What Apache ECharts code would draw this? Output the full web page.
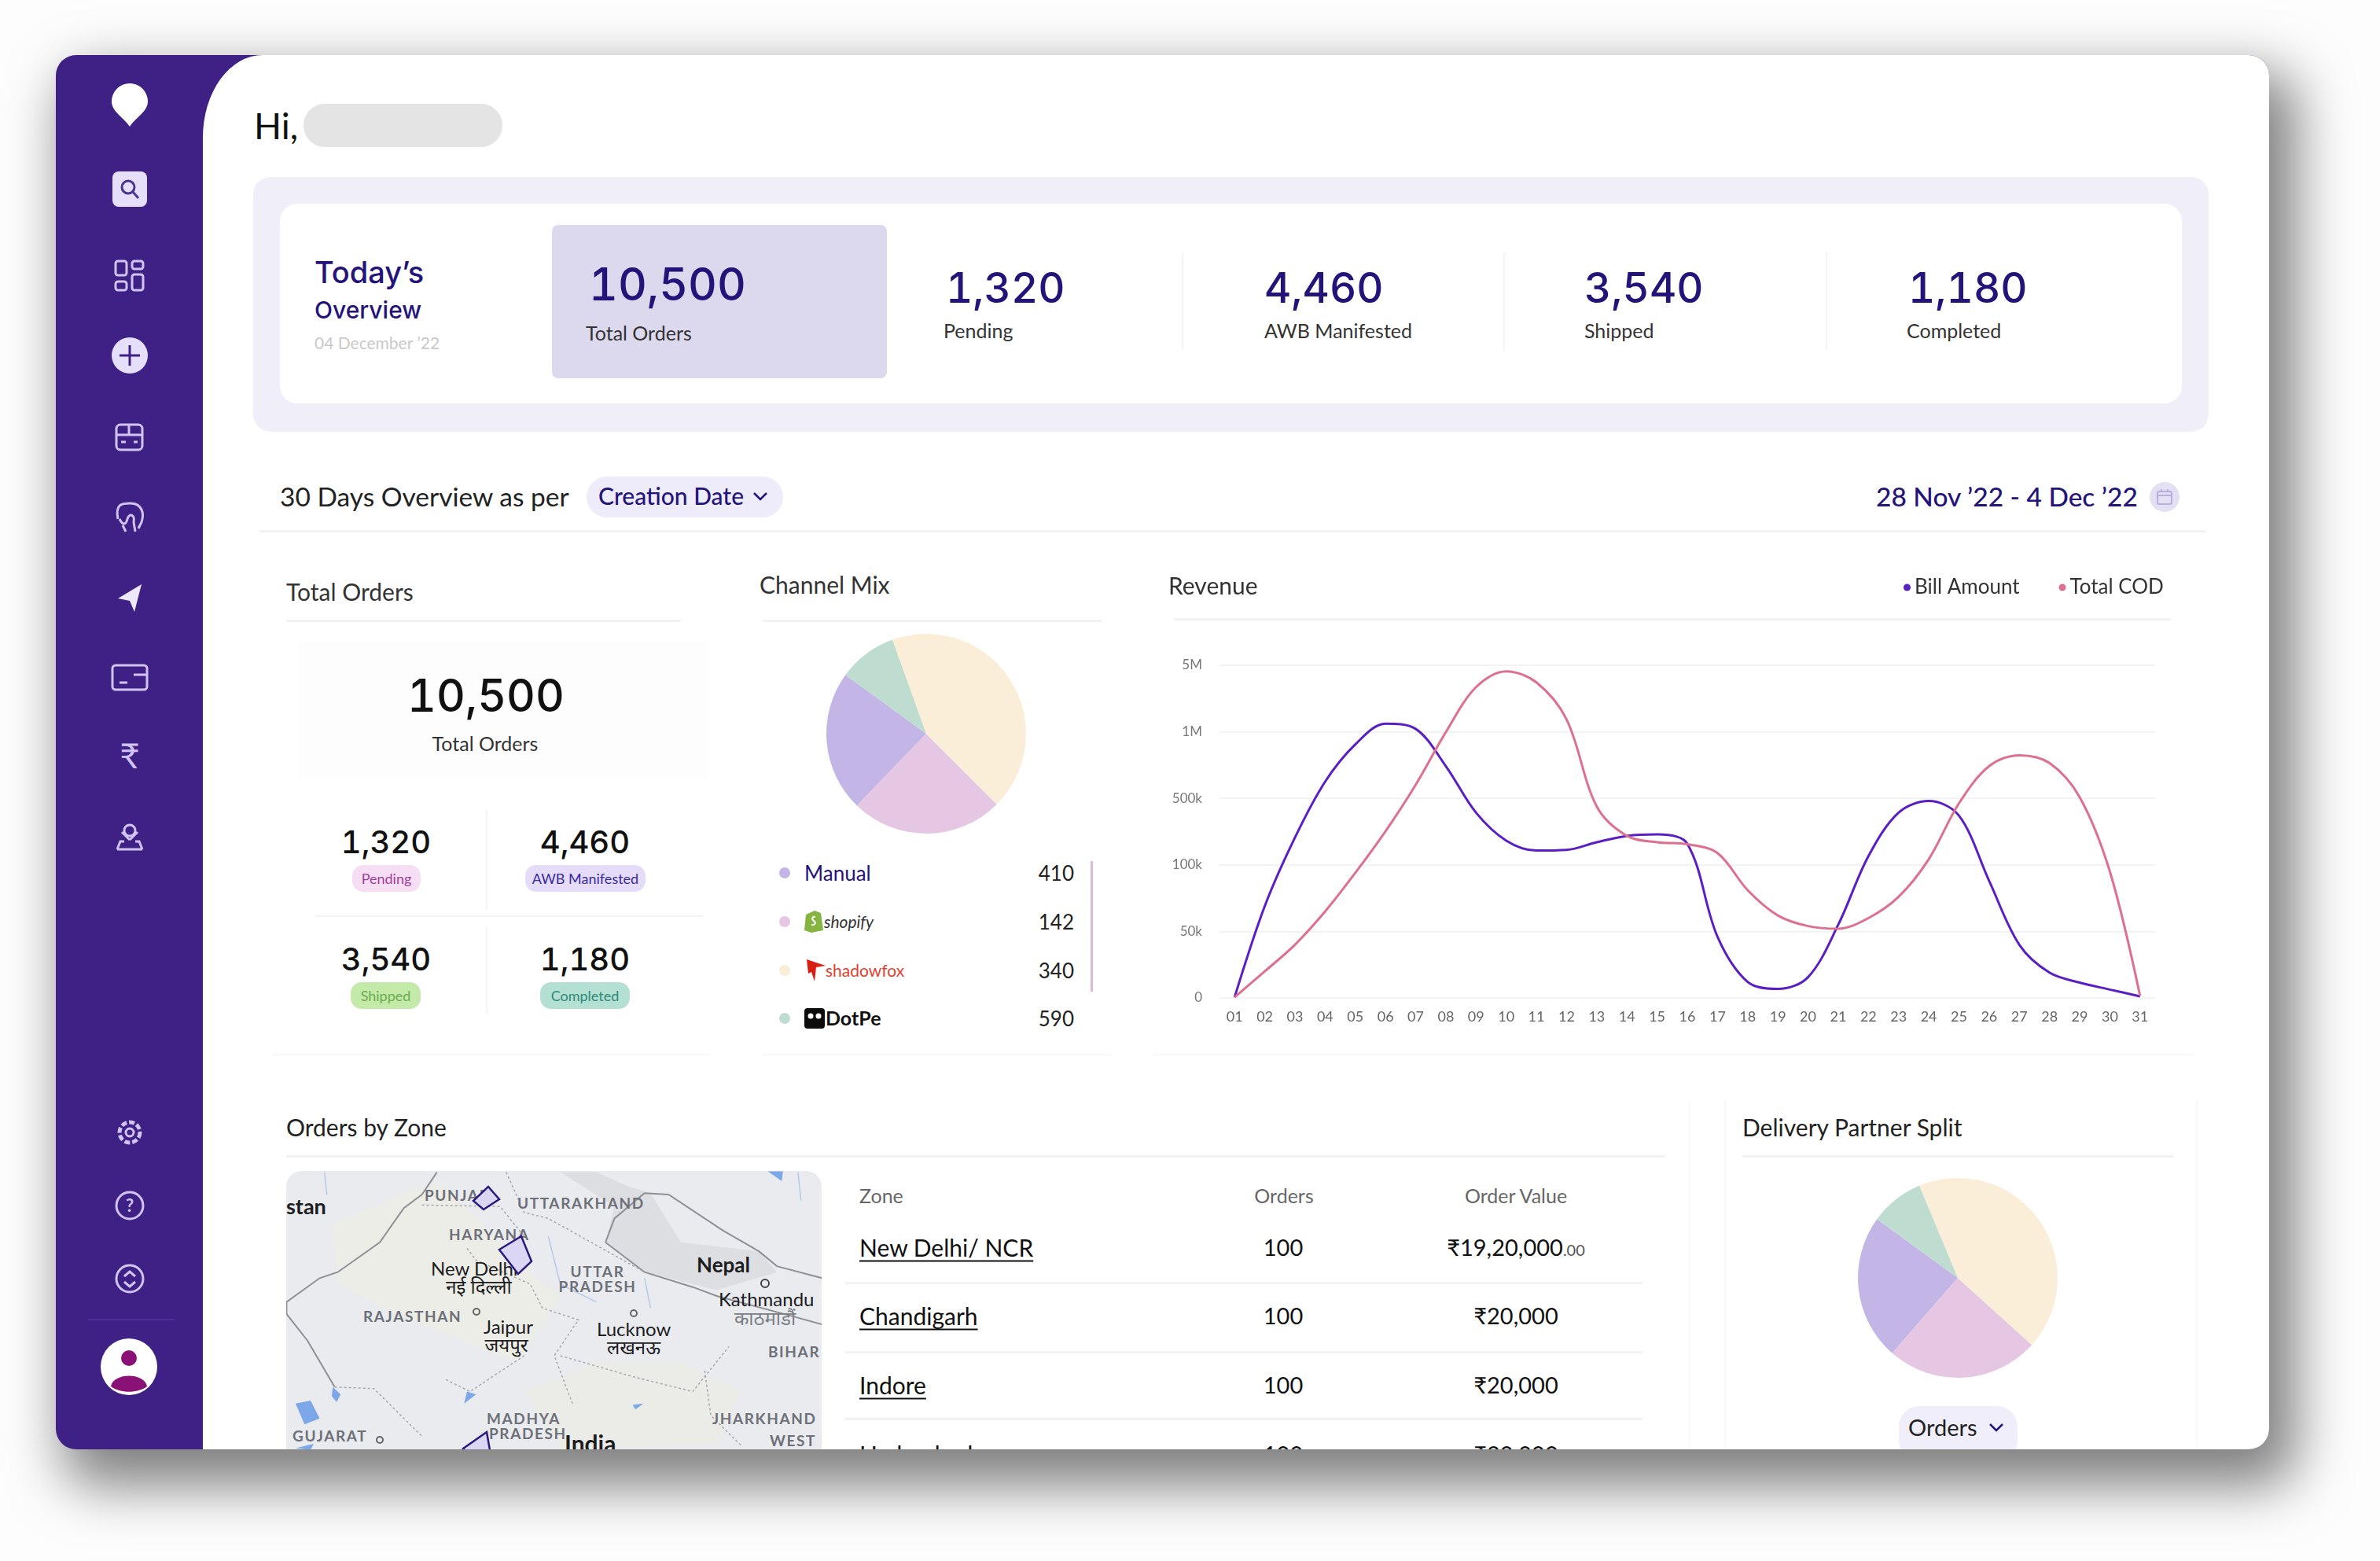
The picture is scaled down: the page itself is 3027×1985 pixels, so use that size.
<!DOCTYPE html>
<html lang="en">
<head>
	<meta charset="UTF-8">
	<title>Overview</title>
	<script src="https://cdn.jsdelivr.net/npm/echarts@6/dist/echarts.min.js"></script>
	<style>
		html,body{margin:0;padding:0;background:#fdfdfd;}
		body{position:relative;width:3027px;height:1985px;overflow:hidden;font-family:Lato,"Noto Sans","DejaVu Sans",sans-serif;color:#222;}
		#card{position:absolute;left:71px;top:70px;width:2815px;height:1773px;background:#3f2185;border-radius:26px;box-shadow:22px 34px 70px 12px rgba(0,0,0,.5);}
		#clip{position:absolute;left:0;top:0;width:100%;height:100%;overflow:hidden;border-radius:26px;}
		#inner{position:absolute;left:-71px;top:-70px;width:3027px;height:1985px;}
		#panel{position:absolute;left:258px;top:70px;width:2700px;height:1800px;background:#fff;border-top-left-radius:76px 105px;}
		.t{position:absolute;transform:translateY(-50%);white-space:nowrap;line-height:1.1;}
		.c{transform:translate(-50%,-50%);}
		.box{position:absolute;}
		.line{position:absolute;background:#f2f2f3;height:3px;}
		.vline{position:absolute;background:#f4f4f5;width:2px;}
		.navy{color:#24147a;}
		.num{font-family:Inter,Lato,sans-serif;font-weight:500;font-variant-numeric:tabular-nums;}
		.chart{position:absolute;}
		.pill{position:absolute;border-radius:14px;text-align:center;font-size:18px;line-height:34px;height:34px;}
		.zone{text-decoration:underline;text-underline-offset:5px;text-decoration-thickness:2px;color:#111;font-size:30px;}
		.cell{font-size:29px;color:#111;}
		#map text{font-family:Lato,"Noto Sans","DejaVu Sans",sans-serif;}
		#map path{vector-effect:non-scaling-stroke;}
		.st{fill:#6d7078;font-size:19px;letter-spacing:1.6px;font-weight:700;}
		.ct{fill:#1d1d1f;font-size:24px;}
	</style>
</head>
<body>
<div id="card"><div id="clip"><div id="inner">
	<div id="panel"></div>

	<!-- sidebar icons -->
	<svg class="box" style="left:0;top:0" width="300" height="1985" fill="none" stroke="#cfc4f3" stroke-width="3">
		<path d="M165 161C158 150 142 142 142 129A23 23 0 1 1 188 129C188 142 172 150 165 161Z" fill="#fff" stroke="none"/>
		<rect x="143" y="218" width="44" height="45" rx="8" fill="#e6dffa" stroke="none"/>
		<circle cx="163" cy="238" r="8" stroke="#4a3590" stroke-width="3"/><path d="M169 244L176 252" stroke="#4a3590" stroke-width="3"/>
		<rect x="147" y="332" width="14" height="18" rx="3"/><rect x="168" y="332" width="14" height="10" rx="3"/>
		<rect x="147" y="358" width="14" height="11" rx="3"/><rect x="168" y="349" width="14" height="20" rx="3"/>
		<circle cx="165" cy="452" r="23" fill="#e6dffa" stroke="none"/><path d="M165 439V465M152 452H178" stroke="#3f2185"/>
		<rect x="148" y="540" width="33" height="32" rx="5"/><path d="M148 553H181M164 540V553M170 562H175M154 562H160"/>
		<path d="M150 660C146 640 156 640 166 640C180 640 184 652 180 664L176 672M152 660C156 668 160 668 162 660C164 652 172 654 170 664L172 676M156 668L160 676" />
		<path d="M150 761L180 743L171 778L165 764Z" fill="#ede8fb" stroke="none"/>
		<rect x="143" y="846" width="44" height="31" rx="4"/><path d="M152 868H162M170 858H187"/>
		<text x="165" y="977" text-anchor="middle" font-size="44" fill="#cfc4f3" stroke="none">₹</text>
		<circle cx="165" cy="1056" r="7"/><path d="M165 1068L155 1058M165 1068L175 1058M149 1080L153 1070L158 1070M181 1080L177 1070L172 1070M149 1080H181"/>
		<circle cx="165" cy="1440" r="5" stroke-width="3"/><circle cx="165" cy="1440" r="13" stroke-dasharray="7 3" stroke-width="5"/>
		<circle cx="165" cy="1533" r="17"/><text x="165" y="1541" text-anchor="middle" font-size="22" fill="#cfc4f3" stroke="none" font-weight="700">?</text>
		<circle cx="165" cy="1626" r="17"/><path d="M158 1623L165 1617L172 1623M158 1630L165 1636L172 1630"/>
		<path d="M112 1678H222" stroke="#4d2f9a" stroke-width="2"/>
		<circle cx="164" cy="1738" r="36" fill="#fff" stroke="none"/>
		<circle cx="164" cy="1727" r="10" fill="#8a1276" stroke="none"/>
		<path d="M141 1763C144 1745 184 1745 187 1763C176 1772 152 1772 141 1763Z" fill="#8a1276" stroke="none"/>
	</svg>

	<!-- header -->
	<div class="t" style="left:323px;top:160px;font-size:46px;color:#111">Hi,</div>
	<div class="box" style="left:386px;top:132px;width:253px;height:55px;border-radius:27px;background:#e4e4e4"></div>

	<!-- today's overview -->
	<div class="box" style="left:322px;top:225px;width:2487px;height:324px;border-radius:22px;background:#f0eef9"></div>
	<div class="box" style="left:356px;top:259px;width:2419px;height:254px;border-radius:22px;background:#fff"></div>
	<div class="box" style="left:702px;top:286px;width:426px;height:195px;border-radius:8px;background:#dcd8ee"></div>
	<div class="t navy" style="left:400px;top:347px;font-size:38px;font-weight:500;font-family:Inter,Lato,sans-serif">Today’s</div>
	<div class="t navy" style="left:400px;top:394px;font-size:30px;font-weight:500;font-family:Inter,Lato,sans-serif">Overview</div>
	<div class="t" style="left:400px;top:436px;font-size:21px;color:#c9c9c9">04 December ’22</div>
	<div id="overview"></div>
	<div class="vline" style="left:1503px;top:321px;height:125px"></div>
	<div class="vline" style="left:1912px;top:321px;height:125px"></div>
	<div class="vline" style="left:2322px;top:321px;height:125px"></div>

	<!-- 30 days row -->
	<div class="t" style="left:356px;top:631px;font-size:33.5px;color:#222">30 Days Overview as per</div>
	<div class="box" style="left:746px;top:606px;width:250px;height:52px;border-radius:26px;background:#eeecfb"></div>
	<div class="t navy" style="left:761px;top:630px;font-size:30px;font-weight:500">Creation Date</div>
	<svg class="box" style="left:956px;top:622px" width="24" height="20" fill="none" stroke="#24147a" stroke-width="2.5"><path d="M3 5L11 13L19 5"/></svg>
	<div class="t navy" style="left:2386px;top:631px;font-size:33.5px;font-weight:500">28 Nov ’22 - 4 Dec ’22</div>
	<div class="box" style="left:2734px;top:613px;width:38px;height:38px;border-radius:19px;background:#e4e0f4"></div>
	<svg class="box" style="left:2741px;top:620px" width="24" height="24" fill="none" stroke="#b9aee0" stroke-width="2"><rect x="3" y="5" width="18" height="16" rx="2"/><path d="M3 10H21M8 2V6M16 2V6"/></svg>
	<div class="line" style="left:330px;top:674px;width:2475px"></div>

	<!-- total orders -->
	<div class="t" style="left:364px;top:752px;font-size:30px;color:#333">Total Orders</div>
	<div class="line" style="left:364px;top:788px;width:502px"></div>
	<div class="box" style="left:380px;top:816px;width:521px;height:175px;background:#fdfdfe"></div>
	<div class="t c num" style="left:618px;top:885px;font-size:57px;color:#111" id="bigTotal"></div>
	<div class="t c" style="left:617px;top:946px;font-size:25px;color:#333">Total Orders</div>
	<div id="statGrid"></div>
	<div class="vline" style="left:618px;top:1030px;height:127px"></div>
	<div class="vline" style="left:618px;top:1179px;height:110px"></div>
	<div class="line" style="left:401px;top:1164px;width:493px;height:2px"></div>
	<div class="line" style="left:345px;top:1340px;width:560px;height:2px;background:#f9f9f9"></div>

	<!-- channel mix -->
	<div class="t" style="left:966px;top:743px;font-size:30px;color:#333">Channel Mix</div>
	<div class="line" style="left:971px;top:788px;width:430px"></div>
	<div class="chart" id="channelPie" style="left:1028px;top:783px;width:300px;height:300px"></div>
	<div id="channelLegend"></div>
	<div class="box" style="left:1387px;top:1095px;width:3px;height:166px;background:#dcb9da"></div>
	<!-- brand marks -->
	<svg class="box" style="left:1022px;top:1156px" width="28" height="32"><path d="M3 7L14 2L22 5L25 27L10 30L1 27Z" fill="#86b440"/><path d="M15 10C11 9 10 13 13 15C16 17 15 21 10 20" stroke="#fff" stroke-width="2" fill="none"/></svg>
	<svg class="box" style="left:1024px;top:1218px" width="28" height="32"><path d="M2 2L26 10L14 12L12 30L8 18L4 20Z" fill="#d91f12"/></svg>
	<svg class="box" style="left:1023px;top:1282px" width="26" height="26"><rect width="26" height="26" rx="4" fill="#0c0c0c"/><circle cx="8" cy="10" r="3.5" fill="#fff"/><circle cx="18" cy="10" r="3.5" fill="#fff"/></svg>
	<div class="line" style="left:970px;top:1340px;width:445px;height:2px;background:#f9f9f9"></div>

	<!-- revenue chart -->
	<div class="line" style="left:1493px;top:786px;width:1268px"></div>
	<div class="chart" id="revenueChart" style="left:1460px;top:720px;width:1320px;height:620px"></div>
	<div class="line" style="left:1465px;top:1340px;width:1325px;height:2px;background:#f9f9f9"></div>

	<!-- orders by zone -->
	<div class="t" style="left:364px;top:1433px;font-size:30px;color:#222">Orders by Zone</div>
	<div class="line" style="left:364px;top:1469px;width:1754px"></div>
	<div class="box" style="left:364px;top:1489px;width:681px;height:400px;border-radius:20px;background:#e9ebef;overflow:hidden">
		<svg id="map" width="681" height="400">
			<g transform="translate(-34,-99) scale(.7653,.3795)" fill="none">
				<path d="M500 265L560 265L610 310L650 335L700 500L830 530L860 600L760 660L640 600L575 500L590 380Z" fill="#dddee1"/>
				<path d="M440 1000L560 900L700 900L800 1000L760 1180L500 1190Z" fill="#ebebe8"/>
				<path d="M120 440L250 330L300 300L450 600L500 680L430 900L250 760L130 640Z" fill="#ecede6"/>
				<path d="M295 265L270 340L240 385L200 500L130 600L100 620L45 700L45 740L80 830L125 985" stroke="#8d9096" stroke-width="2"/>
				<path d="M640 335L680 340L770 460L830 530L860 580L935 620M575 500L640 600L720 650L760 680L890 750L935 775M640 335L590 420L575 500" stroke="#8d9096" stroke-width="2"/>
				<path d="M410 265L440 400L480 420L560 510L640 600M270 375L400 380L440 480M345 520L360 560L450 640L470 720L530 760L490 880L520 1040M125 985L190 990L270 1150M500 880L620 950L720 1000L780 850M740 930L750 1080L800 1180M310 960L350 1000L440 880" stroke="#a4a7ad" stroke-width="1.5" stroke-dasharray="3 3"/>
				<path d="M108 265L112 340M895 265L900 360M480 480L500 640L560 700M640 620L650 720" stroke="#b5c9ec" stroke-width="1.5"/>
				<path d="M60 1040L85 1030L100 1090L75 1110Z M122 985L135 1010L128 1035L120 1015Z M845 262L870 262L868 295Z M345 1000L360 1010L340 1040Z M620 1045L638 1040L625 1060Z M60 1190L90 1175L85 1195Z" fill="#7ca7e8"/>
			</g>
			<text x="0" y="55" class="ct" font-weight="700" style="font-size:27px">stan</text>
			<text x="176" y="38" class="st">PUNJAB</text>
			<polygon points="257,20 271,36 251,49 238,38" fill="#dcd6f5" stroke="#2a1a80" stroke-width="2.5"/>
			<text x="294" y="48" class="st">UTTARAKHAND</text>
			<text x="207" y="88" class="st">HARYANA</text>
			<text x="184" y="133" class="ct">New Delhi</text>
			<polygon points="299,83 271,100 295,131 312,115" fill="#dcd6f5" stroke="#2a1a80" stroke-width="2.5"/>
			<text x="245" y="156" class="ct" text-anchor="middle">नई दिल्ली</text>
			<text x="396" y="135" class="st" text-anchor="middle">UTTAR</text>
			<text x="396" y="154" class="st" text-anchor="middle">PRADESH</text>
			<text x="522" y="129" class="ct" font-weight="700" style="font-size:26px">Nepal</text>
			<circle cx="609" cy="143" r="5" fill="none" stroke="#444" stroke-width="2"/>
			<text x="550" y="172" class="ct">Kathmandu</text>
			<text x="609" y="196" class="ct" text-anchor="middle" style="fill:#7a7d84">काठमाडौं</text>
			<text x="98" y="192" class="st">RAJASTHAN</text>
			<circle cx="242" cy="179" r="4" fill="none" stroke="#666" stroke-width="2"/>
			<text x="251" y="207" class="ct">Jaipur</text>
			<text x="280" y="230" class="ct" text-anchor="middle">जयपुर</text>
			<circle cx="442" cy="181" r="4" fill="none" stroke="#666" stroke-width="2"/>
			<text x="395" y="210" class="ct">Lucknow</text>
			<text x="442" y="233" class="ct" text-anchor="middle">लखनऊ</text>
			<text x="613" y="237" class="st">BIHAR</text>
			<text x="255" y="322" class="st">MADHYA</text>
			<text x="258" y="341" class="st">PRADESH</text>
			<polygon points="255,332 225,353 240,372 262,372" fill="#dcd6f5" stroke="#2a1a80" stroke-width="2.5"/>
			<text x="354" y="358" class="ct" font-weight="700" style="font-size:30px">India</text>
			<text x="542" y="322" class="st">JHARKHAND</text>
			<text x="615" y="350" class="st">WEST BENGAL</text>
			<text x="8" y="344" class="st">GUJARAT</text>
			<circle cx="119" cy="342" r="4" fill="none" stroke="#666" stroke-width="2"/>
		</svg>
	</div>

	<!-- zone table -->
	<div class="t" style="left:1093px;top:1521px;font-size:25px;color:#666">Zone</div>
	<div class="t c" style="left:1633px;top:1521px;font-size:25px;color:#666">Orders</div>
	<div class="t c" style="left:1928px;top:1521px;font-size:25px;color:#666">Order Value</div>
	<div id="zoneTable"></div>
	<div class="line" style="left:1075px;top:1630px;width:1014px"></div>
	<div class="line" style="left:1075px;top:1718px;width:1014px"></div>
	<div class="line" style="left:1075px;top:1803px;width:1014px"></div>

	<!-- delivery partner split -->
	<div class="vline" style="left:2148px;top:1400px;height:440px;background:#f9f9f9"></div>
	<div class="vline" style="left:2193px;top:1400px;height:440px;background:#f9f9f9"></div>
	<div class="vline" style="left:2793px;top:1400px;height:440px;background:#f9f9f9"></div>
	<div class="t" style="left:2216px;top:1433px;font-size:30px;color:#222">Delivery Partner Split</div>
	<div class="line" style="left:2216px;top:1469px;width:548px"></div>
	<div class="chart" id="deliveryPie" style="left:2340px;top:1475px;width:300px;height:300px"></div>
	<div class="box" style="left:2415px;top:1788px;width:151px;height:70px;border-radius:26px;background:#f0eefa"></div>
	<div class="t" style="left:2427px;top:1815px;font-size:29px;color:#222">Orders</div>
	<svg class="box" style="left:2528px;top:1806px" width="24" height="20" fill="none" stroke="#24147a" stroke-width="2.5"><path d="M3 5L11 13L19 5"/></svg>
</div></div></div>

<script>
	var overviewLabels = ['Total Orders', 'Pending', 'AWB Manifested', 'Shipped', 'Completed'];
	var overviewValues = ['10,500', '1,320', '4,460', '3,540', '1,180'];

	var channelNames = ['Manual', 'shopify', 'shadowfox', 'DotPe'];
	var channelCounts = [410, 142, 340, 590];
	// slice shares as drawn, they do not follow the counts
	var channelShare = [22.8, 24.7, 43, 9.5];
	var deliveryNames = ['Manual', 'shopify', 'shadowfox', 'DotPe'];
	var deliveryShare = [23.6, 24.7, 43, 8.7];
	var pieColors = ['#c3b6e6', '#e6c7e3', '#fbeed8', '#bfdcd0'];

	var days = ['01','02','03','04','05','06','07','08','09','10','11','12','13','14','15','16','17','18','19','20','21','22','23','24','25','26','27','28','29','30','31'];
	var yTickValues = [0, 50000, 100000, 500000, 1000000, 5000000];
	var yTickLabels = ['0', '50k', '100k', '500k', '1M', '5M'];
	var billAmount = [500, 69000, 264000, 625000, 905000, 1490000, 1176000, 742000, 414000, 246000, 186000, 190000, 236000, 274000, 283000, 227000, 46000, 12000, 6800, 15600, 55000, 152000, 414000, 484000, 396000, 88000, 40000, 19000, 11500, 6300, 1200];
	var totalCod = [500, 20000, 40000, 65000, 94000, 302000, 602000, 998000, 3690000, 4630000, 3970000, 1740000, 451000, 274000, 236000, 224000, 171000, 81000, 62000, 54000, 52000, 60000, 76000, 134000, 470000, 742000, 824000, 766000, 509000, 95000, 1600];

	var zoneNames = ['New Delhi/ NCR', 'Chandigarh', 'Indore', 'Hyderabad'];
	var zoneOrders = [100, 100, 100, 100];
	var zoneValues = ['₹19,20,000', '₹20,000', '₹20,000', '₹20,000'];

	function el(parent, cls, style, html){
		var d = document.createElement('div');
		d.className = cls;
		d.style.cssText = style;
		d.innerHTML = html;
		document.getElementById(parent).appendChild(d);
	}

	// top strip
	var overviewX = [749, 1203, 1608, 2015, 2427];
	var overviewLabelX = [745, 1200, 1608, 2015, 2425];
	for(var i = 0; i < overviewValues.length; i++){
		el('overview', 't navy num', 'left:'+overviewX[i]+'px;top:'+(i==0?362:366)+'px;font-size:'+(i==0?57:53)+'px', overviewValues[i]);
		el('overview', 't', 'left:'+overviewLabelX[i]+'px;top:'+(i==0?424:421)+'px;font-size:25px;color:#333', overviewLabels[i]);
	}

	// total orders block
	document.getElementById('bigTotal').innerText = overviewValues[0];
	var statX = [491, 744, 491, 744];
	var statY = [1071, 1071, 1220, 1220];
	var statSrc = [1, 2, 3, 4];
	var pillX = [448, 668, 446, 687];
	var pillW = [87, 153, 89, 114];
	var pillBg = ['#f6dff4', '#e4dcf9', '#c3eaa8', '#b4dfd3'];
	var pillFg = ['#a0409a', '#3a2a9a', '#6cab50', '#2f8a78'];
	for(var i = 0; i < 4; i++){
		el('statGrid', 't c num', 'left:'+statX[i]+'px;top:'+statY[i]+'px;font-size:40px;color:#111', overviewValues[statSrc[i]]);
		el('statGrid', 'pill', 'left:'+pillX[i]+'px;top:'+(i<2?1100:1249)+'px;width:'+pillW[i]+'px;background:'+pillBg[i]+';color:'+pillFg[i], overviewLabels[statSrc[i]]);
	}

	// channel legend
	var legendY = [1110, 1172, 1234, 1295];
	var legendStyle = [
		'left:1023px;font-size:26px;color:#24147a',
		'left:1048px;font-size:21px;font-style:italic;color:#333',
		'left:1050px;font-size:21px;color:#e0402f',
		'left:1050px;font-size:25px;font-weight:700;color:#111'
	];
	for(var i = 0; i < channelNames.length; i++){
		el('channelLegend', 'box', 'left:991px;top:'+(legendY[i]-7)+'px;width:14px;height:14px;border-radius:7px;background:'+pieColors[i], '');
		el('channelLegend', 't', legendStyle[i]+';top:'+legendY[i]+'px', channelNames[i]);
		el('channelLegend', 't', 'right:'+(3027-1366)+'px;top:'+legendY[i]+'px;font-size:26px;color:#222', channelCounts[i]);
	}

	// zone rows
	var rowY = [1586, 1673, 1761, 1849];
	for(var i = 0; i < zoneNames.length; i++){
		el('zoneTable', 't zone', 'left:1093px;top:'+rowY[i]+'px', zoneNames[i]);
		el('zoneTable', 't c cell', 'left:1632px;top:'+rowY[i]+'px', zoneOrders[i]);
		el('zoneTable', 't c cell', 'left:1928px;top:'+rowY[i]+'px', zoneValues[i] + (i==0?'<span style="font-size:20px;color:#555">.00</span>':''));
	}

	// pies
	function pieChart(id, names, share){
		var chart = echarts.init(document.getElementById(id));
		var rows = [];
		for(var i = 0; i < names.length; i++){
			rows.push({name: names[i], value: share[i], itemStyle: {color: pieColors[i]}});
		}
		chart.setOption({
			animation: false,
			series: [{
				type: 'pie',
				silent: true,
				radius: [0, 127],
				center: ['50%', '50%'],
				startAngle: 144,
				clockwise: false,
				label: {show: false},
				labelLine: {show: false},
				data: rows
			}]
		});
	}
	pieChart('channelPie', channelNames, channelShare);
	pieChart('deliveryPie', deliveryNames, deliveryShare);

	// the y axis has evenly spaced ticks that are not evenly valued
	function toTickPos(v){
		for(var i = 1; i < yTickValues.length; i++){
			if(v <= yTickValues[i]){
				return i - 1 + (v - yTickValues[i-1]) / (yTickValues[i] - yTickValues[i-1]);
			}
		}
		return yTickValues.length - 1;
	}

	var revenueChart = echarts.init(document.getElementById('revenueChart'));
	revenueChart.setOption({
		animation: false,
		textStyle: {fontFamily: 'Lato, "Noto Sans", sans-serif'},
		title: {
			text: 'Revenue',
			left: 26,
			top: 6,
			padding: [5, 5, 5, 0],
			textStyle: {fontSize: 30, fontWeight: 'normal', color: '#333'}
		},
		legend: {
			data: ['Bill Amount', 'Total COD'],
			left: 956,
			top: 9,
			icon: 'circle',
			itemWidth: 9,
			itemHeight: 9,
			itemGap: 50,
			textStyle: {fontSize: 26, color: '#333'}
		},
		grid: {left: 91, top: 126, width: 1190, height: 423},
		xAxis: {
			type: 'category',
			data: days,
			boundaryGap: true,
			axisLine: {show: false},
			axisTick: {show: false},
			axisLabel: {color: '#666', fontSize: 18, margin: 15, interval: 0}
		},
		yAxis: {
			type: 'value',
			min: 0,
			max: 5,
			interval: 1,
			axisLine: {show: false},
			axisTick: {show: false},
			axisLabel: {
				color: '#777',
				fontSize: 17,
				margin: 22,
				formatter: function(v){ return yTickLabels[v]; }
			},
			splitLine: {lineStyle: {color: '#f3f3f4', width: 2}}
		},
		series: [
			{
				name: 'Bill Amount',
				type: 'line',
				smooth: 0.34,
				symbol: 'none',
				color: '#5a1fc4',
				lineStyle: {width: 3},
				data: billAmount.map(toTickPos)
			},
			{
				name: 'Total COD',
				type: 'line',
				smooth: 0.34,
				symbol: 'none',
				color: '#dd6f8f',
				lineStyle: {width: 3},
				data: totalCod.map(toTickPos)
			}
		]
	});
</script>
</body>
</html>
